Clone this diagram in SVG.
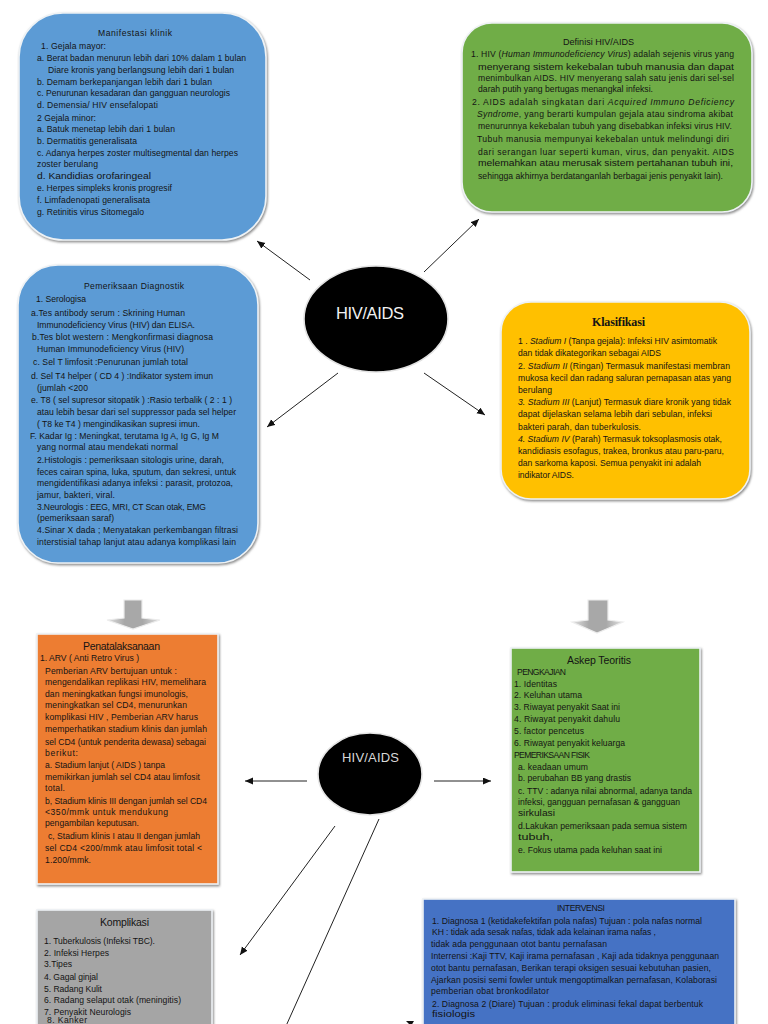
<svg xmlns="http://www.w3.org/2000/svg" width="768" height="1024" viewBox="0 0 768 1024">
<style>
text{font-family:"Liberation Sans",Arial,sans-serif;font-size:8.6px;fill:#141414}
.h{font-size:10.5px}
.serif{font-family:"Liberation Serif","Times New Roman",serif;font-size:12px;font-weight:bold}
.light{fill:#f2f2f2;font-size:16.5px}
.light2{fill:#d8d8d8;font-size:13px}
.it{font-style:italic}
.box{stroke:#eef2f5;stroke-width:1.6;filter:url(#sh)}
.line{fill:none;stroke:#222;stroke-width:1;marker-end:url(#ah)}
.block{fill:url(#bg);stroke:#ececec;stroke-width:1.2}
</style>
<defs>
<filter id="sh" x="-5%" y="-5%" width="110%" height="110%"><feDropShadow dx="1" dy="1.5" stdDeviation="0.8" flood-color="#8a8a8a"/></filter>
<marker id="ah" markerUnits="userSpaceOnUse" markerWidth="9" markerHeight="8" refX="8" refY="3.5" orient="auto"><path d="M0 0L8 3.5L0 7z" fill="#111"/></marker>
<linearGradient id="bg" x1="0" x2="1" y1="0" y2="0"><stop offset="0" stop-color="#e2e2e2"/><stop offset="0.33" stop-color="#a8a8a8"/><stop offset="0.67" stop-color="#a8a8a8"/><stop offset="1" stop-color="#e2e2e2"/></linearGradient>
</defs>
<rect width="768" height="1024" fill="#fff"/>
<g id="connectors">
<path class="line" d="M310 280L257 241"/>
<path class="line" d="M424 272L479 219"/>
<path class="line" d="M338 373L267 427"/>
<path class="line" d="M424 373L485 415"/>
<path class="line" d="M307 781L245 781"/>
<path class="line" d="M434 781L491 781"/>
<path class="line" d="M335 826L240 955"/>
<path fill="none" stroke="#222" d="M379 819L286 1026"/>
<path d="M406 1021L414 1021L411 1026z" fill="#111"/>
</g>
<g id="block-arrow-left"><path class="block" d="M124 600H142V618L160 620L133 629L107 620L124 618z"/></g>
<g id="block-arrow-right"><path class="block" d="M588 600H608V620L623 622L597 633L572 622L588 620z"/></g>
<g id="manifestasi">
<rect class="box" x="19" y="13" width="247" height="227" rx="44" fill="#5b9bd5"/>
<text x="98" y="36" textLength="74">Manifestasi klinik</text>
<text x="41" y="49" textLength="65">1.  Gejala mayor:</text>
<text x="37" y="61" textLength="209">a. Berat badan menurun lebih dari 10% dalam 1 bulan</text>
<text x="48" y="73" textLength="186">Diare kronis yang berlangsung lebih dari 1 bulan</text>
<text x="37" y="85" textLength="175">b. Demam berkepanjangan lebih dari 1 bulan</text>
<text x="37" y="96" textLength="193">c. Penurunan kesadaran dan gangguan neurologis</text>
<text x="37" y="108" textLength="121">d. Demensia/ HIV ensefalopati</text>
<text x="37" y="121" textLength="59">2 Gejala minor:</text>
<text x="37" y="132" textLength="138">a. Batuk menetap lebih dari 1 bulan</text>
<text x="37" y="144" textLength="100">b. Dermatitis generalisata</text>
<text x="37" y="156" textLength="201">c. Adanya herpes zoster multisegmental dan herpes</text>
<text x="37" y="167" textLength="61">zoster berulang</text>
<text x="37" y="179" textLength="114" lengthAdjust="spacingAndGlyphs">d. Kandidias orofaringeal</text>
<text x="37" y="191" textLength="135">e. Herpes simpleks kronis progresif</text>
<text x="37" y="203" textLength="113">f. Limfadenopati generalisata</text>
<text x="37" y="215" textLength="107">g. Retinitis virus Sitomegalo</text>
</g>
<g id="definisi">
<rect class="box" x="462" y="23" width="290" height="189" rx="30" fill="#70ad47"/>
<text x="563" y="45" textLength="71" lengthAdjust="spacingAndGlyphs">Definisi HIV/AIDS</text>
<text x="471" y="57" textLength="263">1.  HIV (<tspan class="it">Human Immunodeficiency Virus</tspan>) adalah sejenis virus yang</text>
<text x="478" y="70" textLength="256" lengthAdjust="spacingAndGlyphs">menyerang sistem kekebalan tubuh manusia dan dapat</text>
<text x="478" y="81" textLength="256">menimbulkan AIDS. HIV menyerang salah satu jenis dari sel-sel</text>
<text x="478" y="92" textLength="175">darah putih yang bertugas menangkal infeksi.</text>
<text x="472" y="105" textLength="262">2. AIDS adalah singkatan dari <tspan class="it">Acquired Immuno Deficiency</tspan></text>
<text x="477" y="117" textLength="256"><tspan class="it">Syndrome</tspan>, yang berarti kumpulan gejala atau sindroma akibat</text>
<text x="478" y="129" textLength="254">menurunnya kekebalan tubuh yang disebabkan infeksi virus HIV.</text>
<text x="477" y="142" textLength="252">Tubuh manusia mempunyai kekebalan untuk melindungi diri</text>
<text x="478" y="155" textLength="256">dari serangan luar seperti kuman, virus, dan penyakit. AIDS</text>
<text x="478" y="166" textLength="255" lengthAdjust="spacingAndGlyphs">melemahkan atau merusak sistem pertahanan tubuh ini,</text>
<text x="478" y="179" textLength="245">sehingga akhirnya berdatanganlah berbagai jenis penyakit lain).</text>
</g>
<g id="diagnostik">
<rect class="box" x="18" y="265" width="240" height="298" rx="40" fill="#5b9bd5"/>
<text x="84" y="289" textLength="100">Pemeriksaan Diagnostik</text>
<text x="36" y="302" textLength="50">1. Serologisa</text>
<text x="31" y="316" textLength="154">a.Tes antibody serum :  Skrining Human</text>
<text x="37" y="328" textLength="158">Immunodeficiency Virus (HIV) dan ELISA.</text>
<text x="32" y="340" textLength="181">b.Tes blot western : Mengkonfirmasi diagnosa</text>
<text x="37" y="352" textLength="147">Human Immunodeficiency Virus (HIV)</text>
<text x="33" y="365" textLength="155">c. Sel T limfosit :Penurunan jumlah total</text>
<text x="31" y="379" textLength="182">d. Sel T4 helper ( CD 4 ) :Indikator system imun</text>
<text x="37" y="391" textLength="51">(jumlah &lt;200</text>
<text x="31" y="403" textLength="201">e. T8 ( sel supresor sitopatik ) :Rasio terbalik ( 2 : 1 )</text>
<text x="37" y="415" textLength="199">atau lebih besar dari sel suppressor pada sel helper</text>
<text x="37" y="427" textLength="163">( T8 ke T4 ) mengindikasikan supresi imun.</text>
<text x="30" y="439" textLength="189">F. Kadar Ig : Meningkat, terutama Ig A, Ig G, Ig M</text>
<text x="37" y="450" textLength="141">yang normal atau mendekati normal</text>
<text x="37" y="463" textLength="187">2.Histologis : pemeriksaan sitologis urine, darah,</text>
<text x="37" y="475" textLength="199">feces cairan spina, luka, sputum, dan sekresi, untuk</text>
<text x="37" y="486" textLength="196">mengidentifikasi adanya infeksi : parasit, protozoa,</text>
<text x="37" y="498" textLength="78">jamur, bakteri, viral.</text>
<text x="37" y="510" textLength="169">3.Neurologis : EEG, MRI, CT Scan otak, EMG</text>
<text x="37" y="521" textLength="77">(pemeriksaan saraf)</text>
<text x="37" y="533" textLength="201">4.Sinar X dada ; Menyatakan perkembangan filtrasi</text>
<text x="37" y="545" textLength="199">interstisial tahap lanjut atau adanya komplikasi lain</text>
</g>
<g id="klasifikasi">
<rect class="box" x="501" y="302" width="249" height="197" rx="30" fill="#ffc000"/>
<text class="serif" x="592" y="326" textLength="53">Klasifikasi</text>
<text x="518" y="344" textLength="199">1 . <tspan class="it">Stadium I</tspan> (Tanpa gejala):  Infeksi HIV asimtomatik</text>
<text x="518" y="356" textLength="143">dan tidak dikategorikan sebagai AIDS</text>
<text x="518" y="369" textLength="212">2. <tspan class="it">Stadium II</tspan> (Ringan) Termasuk manifestasi membran</text>
<text x="518" y="381" textLength="213">mukosa kecil dan radang saluran pernapasan atas yang</text>
<text x="518" y="393" textLength="34">berulang</text>
<text x="518" y="405" textLength="213"><tspan class="it">3. Stadium III</tspan> (Lanjut) Termasuk diare kronik yang tidak</text>
<text x="518" y="417" textLength="194">dapat dijelaskan selama lebih dari sebulan, infeksi</text>
<text x="518" y="430" textLength="123">bakteri parah, dan tuberkulosis.</text>
<text x="518" y="442" textLength="204"><tspan class="it">4. Stadium IV</tspan> (Parah) Termasuk toksoplasmosis otak,</text>
<text x="518" y="454" textLength="206">kandidiasis esofagus, trakea, bronkus atau paru-paru,</text>
<text x="518" y="466" textLength="183">dan sarkoma kaposi. Semua penyakit ini adalah</text>
<text x="518" y="478" textLength="56">indikator AIDS.</text>
</g>
<g id="hiv-aids-top">
<ellipse cx="376" cy="319" rx="72" ry="53" fill="#000" stroke="#e2e2e2" stroke-width="1.6"/>
<text class="light" x="336" y="319" textLength="68">HIV/AIDS</text>
</g>
<g id="penatalaksanaan">
<rect class="box" x="37" y="634" width="181" height="250" fill="#ed7d31"/>
<text class="h" x="83" y="650" textLength="77">Penatalaksanaan</text>
<text x="40" y="661" textLength="99">1. ARV ( Anti Retro Virus )</text>
<text x="45" y="674" textLength="132">Pemberian ARV bertujuan untuk :</text>
<text x="45" y="685" textLength="161">mengendalikan replikasi HIV, memelihara</text>
<text x="45" y="697" textLength="143">dan meningkatkan fungsi imunologis,</text>
<text x="45" y="708" textLength="142">meningkatkan sel CD4, menurunkan</text>
<text x="45" y="720" textLength="153">komplikasi HIV , Pemberian ARV harus</text>
<text x="45" y="732" textLength="162">memperhatikan stadium klinis dan jumlah</text>
<text x="45" y="745" textLength="161">sel CD4 (untuk penderita dewasa) sebagai</text>
<text x="45" y="756" textLength="33">berikut:</text>
<text x="45" y="768" textLength="120">a. Stadium lanjut ( AIDS ) tanpa</text>
<text x="45" y="780" textLength="155">memikirkan jumlah sel CD4 atau limfosit</text>
<text x="45" y="791" textLength="20">total.</text>
<text x="45" y="804" textLength="162">b, Stadium klinis III dengan jumlah sel CD4</text>
<text x="45" y="815" textLength="123">&lt;350/mmk untuk    mendukung</text>
<text x="45" y="826" textLength="94">pengambilan keputusan.</text>
<text x="48" y="839" textLength="152">c, Stadium klinis I atau II dengan jumlah</text>
<text x="45" y="851" textLength="157">sel CD4 &lt;200/mmk    atau limfosit total &lt;</text>
<text x="45" y="863" textLength="46">1.200/mmk.</text>
</g>
<g id="askep">
<rect class="box" x="511" y="648" width="189" height="224" fill="#70ad47"/>
<text class="h" x="567" y="664" textLength="64">Askep Teoritis</text>
<text x="517" y="675" textLength="49">PENGKAJIAN</text>
<text x="514" y="687" textLength="43">1. Identitas</text>
<text x="514" y="698" textLength="68">2. Keluhan utama</text>
<text x="514" y="710" textLength="106">3. Riwayat penyakit Saat ini</text>
<text x="514" y="722" textLength="106">4. Riwayat penyakit  dahulu</text>
<text x="514" y="734" textLength="70">5. factor pencetus</text>
<text x="514" y="746" textLength="111">6. Riwayat penyakit keluarga</text>
<text x="514" y="758" textLength="76">PEMERIKSAAN FISIK</text>
<text x="518" y="770" textLength="70">a. keadaan umum</text>
<text x="518" y="781" textLength="113">b. perubahan BB yang drastis</text>
<text x="518" y="794" textLength="174">c. TTV : adanya nilai abnormal, adanya tanda</text>
<text x="518" y="805" textLength="162">infeksi, gangguan pernafasan &amp; gangguan</text>
<text x="518" y="816" textLength="37" lengthAdjust="spacingAndGlyphs">sirkulasi</text>
<text x="518" y="829" textLength="169">d.Lakukan pemeriksaan pada semua sistem</text>
<text x="518" y="840" textLength="35" lengthAdjust="spacingAndGlyphs">tubuh,</text>
<text x="518" y="853" textLength="144">e. Fokus utama pada keluhan saat ini</text>
</g>
<g id="hiv-aids-bottom">
<ellipse cx="370" cy="774" rx="52" ry="41" fill="#000" stroke="#e6e6e6" stroke-width="1.6"/>
<text class="light2" x="342" y="762" textLength="57">HIV/AIDS</text>
</g>
<g id="komplikasi">
<rect class="box" x="37" y="910" width="175" height="130" fill="#a5a5a5"/>
<text class="h" x="100" y="926" textLength="49">Komplikasi</text>
<text x="44" y="944" textLength="111">1. Tuberkulosis (Infeksi TBC).</text>
<text x="44" y="956" textLength="65">2. Infeksi Herpes</text>
<text x="44" y="967" textLength="28">3.Tipes</text>
<text x="44" y="980" textLength="54">4. Gagal ginjal</text>
<text x="44" y="992" textLength="58">5. Radang Kulit</text>
<text x="44" y="1003" textLength="137">6. Radang selaput otak (meningitis)</text>
<text x="44" y="1015" textLength="87">7. Penyakit Neurologis</text>
<text x="47" y="1023" textLength="40">8. Kanker</text>
</g>
<g id="intervensi">
<rect class="box" x="423" y="899" width="312" height="140" fill="#4472c4"/>
<text x="557" y="911" textLength="48">INTERVENSI</text>
<text x="432" y="924" textLength="270">1. Diagnosa 1 (ketidakefektifan pola nafas) Tujuan : pola nafas normal</text>
<text x="432" y="935" textLength="224">KH : tidak ada sesak nafas, tidak ada kelainan irama nafas ,</text>
<text x="431" y="947" textLength="176">tidak ada penggunaan otot bantu pernafasan</text>
<text x="431" y="959" textLength="288">Interrensi  :Kaji TTV, Kaji irama pernafasan , Kaji ada tidaknya penggunaan</text>
<text x="431" y="971" textLength="280">otot bantu pernafasan, Berikan terapi oksigen sesuai kebutuhan pasien,</text>
<text x="431" y="983" textLength="286">Ajarkan posisi semi fowler untuk mengoptimalkan pernafasan, Kolaborasi</text>
<text x="431" y="994" textLength="118">pemberian obat bronkodilator</text>
<text x="432" y="1007" textLength="271">2. Diagnosa 2 (Diare) Tujuan :  produk eliminasi fekal dapat berbentuk</text>
<text x="432" y="1017" textLength="43" lengthAdjust="spacingAndGlyphs">fisiologis</text>
</g>
</svg>
